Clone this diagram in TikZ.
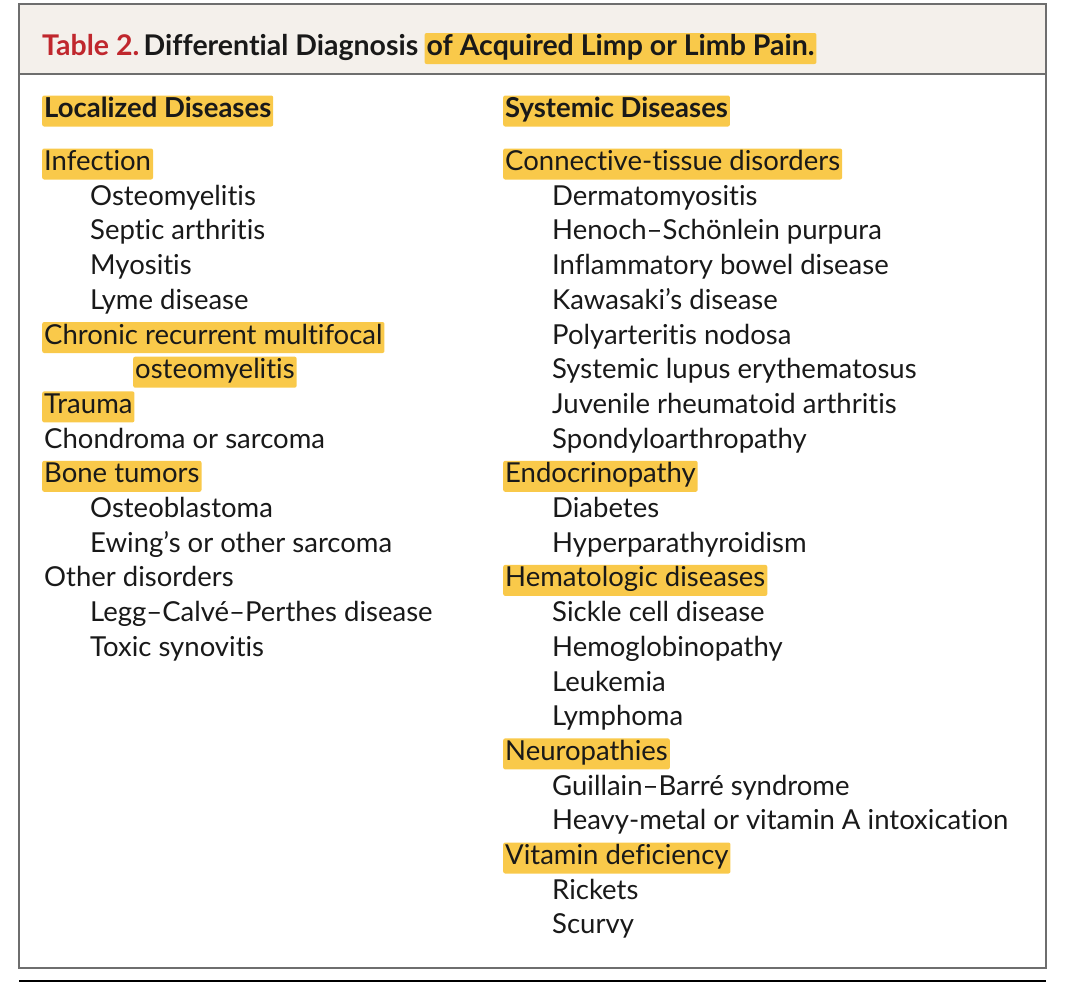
\documentclass[tikz,border=0pt]{standalone}
\usepackage{fontspec}
\setmainfont{Lato}[Ligatures=NoCommon]
\definecolor{hl}{HTML}{F9C94A}
\definecolor{band}{HTML}{F4F0EB}
\definecolor{ttl}{HTML}{C0272D}
\definecolor{frm}{HTML}{6E6E6E}
\begin{document}
\begin{tikzpicture}[x=1pt,y=-1pt,
  t/.style={anchor=west,inner sep=2pt,font=\fontsize{27.5}{32}\selectfont,text=black!90,text height=20pt,text depth=7pt},
  h/.style={t,fill=hl,rounded corners=2pt},
  hb/.style={h,font=\fontsize{27.5}{32}\selectfont\bfseries},
  tb/.style={anchor=base west,inner sep=2pt,font=\fontsize{28.5}{32}\selectfont\bfseries,text height=20pt,text depth=7pt}]
\useasboundingbox (0,0) rectangle (1077,1004);
\fill[band] (19,4) rectangle (1046,74);
\draw[frm,line width=2.5pt] (19,4) rectangle (1046,968);
\draw[frm,line width=1.5pt] (19,74) -- (1046,74);
\draw[black,line width=2.5pt] (19,981) -- (1046,981);
% title
\node[tb,text=ttl] (t1) at (40,55) {Table 2.};
\node[tb,text=black!90] (t2) at (t1.base east) {Differential Diagnosis};
\node[tb,fill=hl,rounded corners=2pt,text=black!90] (t3) at ([xshift=4pt]t2.base east) {of Acquired Limp or Limb Pain.};
% headings
\node[hb] (lh) at (42,111) {Localized Diseases};
\node[hb] (rh) at (503,111) {Systemic Diseases};
% left
\node[h] (l0) at (42,164) {Infection};
\node[t] (l1) at (88,{164+1*34.7}) {Osteomyelitis};
\node[t] (l2) at (88,{164+2*34.7}) {Septic arthritis};
\node[t] (l3) at (88,{164+3*34.7}) {Myositis};
\node[t] (l4) at (88,{164+4*34.7}) {Lyme disease};
\node[h] (l5) at (42,{164+5*34.7}) {Chronic recurrent multifocal};
\node[h] (l6) at (133,{164+6*34.7}) {osteomyelitis};
\node[h] (l7) at (42,{164+7*34.7}) {Trauma};
\node[t] (l8) at (42,{164+8*34.7}) {Chondroma or sarcoma};
\node[h] (l9) at (42,{164+9*34.7}) {Bone tumors};
\node[t] (l10) at (88,{164+10*34.7}) {Osteoblastoma};
\node[t] (l11) at (88,{164+11*34.7}) {Ewing’s or other sarcoma};
\node[t] (l12) at (42,{164+12*34.7}) {Other disorders};
\node[t] (l13) at (88,{164+13*34.7}) {Legg–Calvé–Perthes disease};
\node[t] (l14) at (88,{164+14*34.7}) {Toxic synovitis};
% right
\node[h] (r0) at (503,164) {Connective-tissue disorders};
\node[t] (r1) at (550,{164+1*34.7}) {Dermatomyositis};
\node[t] (r2) at (550,{164+2*34.7}) {Henoch–Schönlein purpura};
\node[t] (r3) at (550,{164+3*34.7}) {Inflammatory bowel disease};
\node[t] (r4) at (550,{164+4*34.7}) {Kawasaki’s disease};
\node[t] (r5) at (550,{164+5*34.7}) {Polyarteritis nodosa};
\node[t] (r6) at (550,{164+6*34.7}) {Systemic lupus erythematosus};
\node[t] (r7) at (550,{164+7*34.7}) {Juvenile rheumatoid arthritis};
\node[t] (r8) at (550,{164+8*34.7}) {Spondyloarthropathy};
\node[h] (r9) at (503,{164+9*34.7}) {Endocrinopathy};
\node[t] (r10) at (550,{164+10*34.7}) {Diabetes};
\node[t] (r11) at (550,{164+11*34.7}) {Hyperparathyroidism};
\node[h] (r12) at (503,{164+12*34.7}) {Hematologic diseases};
\node[t] (r13) at (550,{164+13*34.7}) {Sickle cell disease};
\node[t] (r14) at (550,{164+14*34.7}) {Hemoglobinopathy};
\node[t] (r15) at (550,{164+15*34.7}) {Leukemia};
\node[t] (r16) at (550,{164+16*34.7}) {Lymphoma};
\node[h] (r17) at (503,{164+17*34.7}) {Neuropathies};
\node[t] (r18) at (550,{164+18*34.7}) {Guillain–Barré syndrome};
\node[t] (r19) at (550,{164+19*34.7}) {Heavy-metal or vitamin A intoxication};
\node[h] (r20) at (503,{164+20*34.7}) {Vitamin deficiency};
\node[t] (r21) at (550,{164+21*34.7}) {Rickets};
\node[t] (r22) at (550,{164+22*34.7}) {Scurvy};
\end{tikzpicture}
\end{document}
